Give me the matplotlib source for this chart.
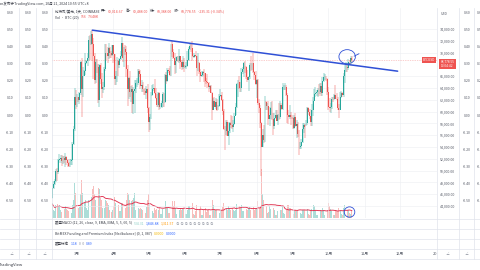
import datetime as dt

import matplotlib
matplotlib.use("Agg")
import matplotlib.dates as mdates
import matplotlib.pyplot as plt
from matplotlib import transforms
from matplotlib.patches import Ellipse
import pandas as pd

plt.rcParams['font.family'] = ['Noto Sans CJK SC', 'DejaVu Sans']

W, H = 480, 270

# daily BTC/USD candles, 2024-02-08 .. 2024-10-21
start_day = "2024-02-08"
first_open = 44350

close_feb = [45300, 47130, 47770, 48300, 49960, 49740, 51830, 51940, 52150, 51660, 52120,
             51780, 52280, 51850, 51320, 50740, 51570, 51730, 54520, 57090, 62500, 61200]
high_feb = [45600, 48200, 48200, 48600, 50300, 50400, 52000, 52800, 52600, 52600, 52400,
            52500, 52900, 52400, 52000, 51500, 51950, 52000, 54900, 57600, 64000, 63700]
low_feb = [44300, 45200, 46800, 47600, 48100, 48300, 49500, 51300, 51300, 50700, 51100,
           51300, 50600, 50900, 50600, 50600, 50600, 51000, 50900, 54400, 56700, 60400]

close_mar = [62440, 62030, 63170, 68330, 63800, 66110, 66930, 68300, 68500, 69020, 72120,
             71480, 73080, 71400, 69400, 65300, 68400, 67600, 61900, 67900, 65500, 63800,
             64100, 67200, 70000, 69900, 69450, 70780, 69890, 69660, 71330]
high_mar = [63000, 62500, 63300, 68500, 69000, 67600, 67000, 69900, 68700, 70000, 72800,
            72950, 73650, 73800, 72400, 70000, 68900, 68900, 68000, 68100, 68200, 66500,
            65000, 67600, 71500, 71500, 71000, 71600, 70900, 70300, 71350]
low_mar = [60800, 61600, 61300, 62800, 59000, 62400, 66000, 66200, 68000, 67800, 68600,
           68700, 71300, 68500, 65600, 64600, 64800, 66600, 61500, 60800, 64600, 62300,
           63100, 63600, 66900, 68800, 68300, 68900, 69000, 69100, 69500]

close_apr = [69700, 65450, 65980, 68500, 67840, 68900, 69360, 71620, 69140, 70590, 70060,
             67200, 63800, 65700, 63400, 63800, 61300, 63500, 63800, 64900, 64900, 66800,
             66400, 64300, 64500, 63750, 63420, 63110, 63840, 60640]
high_apr = [71300, 69700, 66900, 69300, 68700, 69000, 70300, 72700, 71700, 71000, 71300,
            71200, 67900, 65800, 66800, 64400, 64500, 64100, 65400, 65400, 65700, 67200,
            67200, 67100, 65300, 65000, 63900, 64000, 64300, 64700]
low_apr = [68200, 64500, 64500, 65100, 66000, 67400, 68800, 69200, 68400, 67500, 69600,
           65800, 60900, 62200, 62400, 61700, 59800, 59600, 59700, 63100, 64200, 64500,
           65800, 63800, 63300, 63400, 62800, 62800, 62100, 59800]

close_may = [58250, 59120, 62890, 63890, 64030, 63160, 62330, 61190, 63080, 60790, 60820,
             61480, 62900, 61550, 66250, 65230, 67050, 66940, 66280, 71450, 70140, 69120,
             67950, 68550, 69290, 68500, 69400, 68360, 67640, 68350, 67490]
high_may = [60800, 59600, 63300, 64500, 64600, 65500, 64000, 62900, 63400, 63400, 61400,
            61800, 63400, 63100, 66400, 66700, 67400, 67400, 67700, 71500, 71900, 70600,
            70000, 69200, 69500, 69500, 70600, 69500, 68800, 69400, 69000]
low_may = [56500, 56900, 58800, 62600, 63500, 62900, 62200, 60700, 60700, 60200, 60500,
           60600, 60800, 60700, 61400, 64600, 65100, 66600, 66100, 66100, 69200, 68900,
           66300, 66600, 68500, 68400, 68300, 67300, 67100, 67200, 66700]

close_jun = [67700, 67750, 68810, 70550, 71080, 70760, 69340, 69300, 69650, 69500, 67320,
             68240, 66750, 66010, 66190, 66640, 66490, 65160, 64960, 64830, 64100, 64260,
             63180, 60280, 61800, 60860, 61670, 60320, 60890, 62680]
high_jun = [67900, 68400, 70200, 71000, 71700, 71600, 71900, 69500, 69900, 70200, 69500,
            69900, 68400, 67300, 66800, 66900, 67200, 66500, 65700, 66400, 65000, 64500,
            64500, 63300, 62300, 62400, 62300, 62200, 61200, 63000]
low_jun = [67400, 67300, 67600, 68500, 70400, 70100, 68500, 69200, 69100, 69200, 66100,
           66900, 66300, 65100, 65900, 66100, 65100, 64100, 64600, 64000, 63400, 63900,
           63200, 58500, 60300, 60700, 60500, 60100, 60300, 60700]

close_jul = [62850, 62030, 60170, 56990, 56660, 58230, 55850, 56700, 58010, 57740, 57340,
             57900, 59190, 60800, 64720, 65040, 64080, 63970, 66710, 67160, 68180, 67580,
             65930, 65370, 65780, 67910, 67870, 68240, 66780, 66180, 64630]
high_jul = [63800, 63300, 62200, 60500, 57500, 58500, 58500, 58200, 58300, 59400, 59300,
            58500, 59800, 61400, 64900, 65400, 66100, 65100, 67400, 67600, 68400, 68500,
            67800, 67100, 66100, 68200, 69400, 68300, 70000, 66900, 66800]
low_jul = [62500, 61800, 59400, 56800, 53500, 56000, 55800, 54300, 56300, 57200, 57000,
           56600, 57800, 59500, 60600, 62400, 63900, 63300, 63300, 66300, 65800, 66600,
           65500, 65100, 63500, 65600, 66800, 67100, 66600, 65400, 64500]

close_aug = [65340, 61490, 60690, 58110, 53990, 56030, 55120, 61710, 60880, 60920, 58710,
             59350, 60600, 58740, 57560, 58870, 59480, 58430, 59500, 59020, 61170, 60380,
             64100, 64180, 64250, 62830, 59420, 59030, 59370, 59120, 58970]
high_aug = [65600, 65600, 62200, 61100, 58300, 57000, 57700, 62700, 61800, 61500, 61800,
            60700, 61600, 61800, 59800, 59800, 60200, 60300, 59600, 61400, 61800, 61400,
            64900, 64500, 64900, 64500, 63200, 60200, 61200, 60000, 59400]
low_aug = [62300, 61100, 59800, 57200, 49000, 54000, 54600, 54800, 60300, 60300, 57700,
           57600, 58700, 58500, 56100, 57100, 58800, 58400, 57800, 58600, 58800, 60300,
           60200, 63600, 63600, 62700, 58100, 57900, 58800, 57800, 58800]

close_sep = [57300, 59130, 57480, 57970, 56160, 53950, 54150, 54840, 57020, 57650, 57340,
             58130, 60570, 60010, 59180, 58210, 60310, 61760, 62950, 63200, 63350, 63580,
             63330, 64260, 63150, 65180, 65790, 65890, 65600, 63330]
high_sep = [59000, 59400, 59800, 58500, 58300, 56900, 54800, 55300, 58100, 58000, 57900,
            58600, 60700, 60700, 60400, 59200, 61300, 62500, 63900, 64100, 63600, 64000,
            64700, 64800, 64800, 65800, 66500, 66300, 66100, 65700]
low_sep = [57100, 57100, 57400, 55600, 55700, 52600, 53700, 53600, 54600, 56400, 55600,
           57500, 57800, 59500, 58700, 57500, 57600, 59200, 61800, 62400, 62700, 62400,
           62700, 62900, 62700, 62600, 65000, 65400, 65200, 62800]

close_oct = [60830, 60630, 60750, 62080, 62070, 62820, 62220, 62130, 60590, 60280, 62450,
             63200, 62850, 66080, 67040, 67610, 67380, 68400, 68360, 69030, 68778.55]
high_oct = [64100, 62300, 61400, 62500, 62400, 63000, 64500, 63200, 62500, 61300, 63400,
            63500, 63300, 66500, 67900, 68400, 67900, 68900, 68700, 69400, 69488]
low_oct = [60200, 60000, 59800, 60500, 61700, 61900, 62100, 61900, 60300, 58900, 60200,
           62300, 62400, 62400, 64900, 66700, 66700, 67100, 67900, 68100, 68388]

# volume, thousand BTC
vol_feb = [15, 18, 9, 8, 16, 17, 14, 16, 10, 7, 7, 11, 14, 11, 10, 8, 6, 6, 16, 22, 42, 30]
vol_mar = [25, 12, 13, 28, 45, 30, 18, 22, 12, 10, 22, 30, 25, 34, 38, 28, 22, 20, 36, 34,
           24, 22, 12, 12, 22, 20, 18, 16, 10, 7, 9]
vol_apr = [14, 25, 18, 19, 15, 8, 8, 18, 18, 17, 12, 22, 30, 28, 22, 20, 22, 24, 30, 10,
           8, 12, 11, 12, 11, 10, 7, 6, 13, 22]
vol_may = [28, 18, 18, 8, 6, 12, 10, 11, 10, 12, 5, 5, 11, 10, 20, 13, 12, 6, 6, 20,
           20, 14, 20, 12, 5, 5, 10, 12, 10, 11, 12]
vol_jun = [5, 5, 10, 14, 14, 10, 18, 5, 4, 8, 15, 15, 11, 14, 4, 4, 10, 12, 7, 9,
           10, 4, 4, 22, 16, 9, 9, 9, 4, 6]
vol_jul = [10, 10, 13, 18, 28, 12, 10, 14, 11, 9, 12, 10, 8, 9, 17, 16, 14, 12, 16, 8,
           8, 12, 11, 9, 12, 13, 10, 6, 13, 10, 11]
vol_aug = [12, 20, 12, 14, 58, 28, 22, 25, 14, 6, 7, 14, 11, 10, 12, 9, 4, 4, 8, 9,
           10, 9, 14, 6, 5, 10, 16, 16, 12, 12, 6]
vol_sep = [5, 8, 10, 8, 10, 14, 6, 5, 10, 10, 9, 9, 11, 5, 4, 9, 11, 15, 14, 9,
           4, 4, 8, 9, 8, 12, 10, 4, 4, 10]
vol_oct = [18, 14, 11, 8, 4, 4, 9, 8, 8, 12, 10, 5, 4, 12, 15, 12, 10, 10, 6, 5, 8]

# drawn trendline and the two hand circles
trend_dates = ["2024-03-14", "2024-11-29"]
trend_prices = [73800, 66850]
circle_dates = ["2024-10-17", "2024-10-19"]
circle_prices = [69300, 42980]
circle_w_days = [14, 9]
circle_h_price = [2400, 1750]

month_labels = ["3月", "4月", "5月", "6月", "7月", "8月", "9月", "10月", "11月", "12月"]
month_dates = ["2024-03-01", "2024-04-01", "2024-05-01", "2024-06-01", "2024-07-01",
               "2024-08-01", "2024-09-01", "2024-10-01", "2024-11-01", "2024-12-01"]
year_label = "20"
# 68,000 sits under the last-price tag, so it is not shown
price_ticks = [44000, 46000, 48000, 50000, 52000, 54000, 56000, 58000, 60000,
               62000, 64000, 66000, 70000, 72000, 74000]
scale_ticks = [0.60, 0.50, 0.40, 0.30, 0.20, 0.10, 0.00, -0.10, -0.20, -0.30, -0.40, -0.50]

UP, DOWN = "#26a69a", "#ef5350"
TXT = "#3a3d47"
GRID = "#eceef2"
BLUE = "#2f50d6"

closes = (close_feb + close_mar + close_apr + close_may + close_jun + close_jul
          + close_aug + close_sep + close_oct)
highs = (high_feb + high_mar + high_apr + high_may + high_jun + high_jul
         + high_aug + high_sep + high_oct)
lows = (low_feb + low_mar + low_apr + low_may + low_jun + low_jul
        + low_aug + low_sep + low_oct)
vols = (vol_feb + vol_mar + vol_apr + vol_may + vol_jun + vol_jul
        + vol_aug + vol_sep + vol_oct)

df = pd.DataFrame({"close": closes, "high": highs, "low": lows, "vol": vols},
                  index=pd.date_range(start_day, periods=len(closes), freq="D"))
df["open"] = df["close"].shift(1).fillna(first_open)
df["vol_ma"] = df["vol"].rolling(20, min_periods=1).mean()
xs = mdates.date2num(df.index.to_pydatetime())
up = df["close"] >= df["open"]
colors = [UP if u else DOWN for u in up]


def fx(px):
    return px / W


def fy(py):
    return 1 - py / H


fig = plt.figure(figsize=(4.8, 2.7), dpi=100)
fig.patch.set_facecolor("white")

ax = fig.add_axes([fx(52), fy(218), fx(437) - fx(52), fy(8) - fy(218)])
vax = ax.twinx()
ax.set_zorder(vax.get_zorder() + 1)
ax.patch.set_visible(False)

x0 = mdates.date2num(dt.datetime(2024, 2, 8, 16))
x1 = mdates.date2num(dt.datetime(2025, 1, 1, 12))
ax.set_xlim(x0, x1)
ax.set_ylim(41966, 77559)
vax.set_ylim(0, 250)

# volume + MA
vax.bar(xs, df["vol"], width=0.75, color=colors, alpha=0.38, linewidth=0)
vax.plot(xs, df["vol_ma"], color="#e0304e", lw=0.65)
vax.yaxis.set_visible(False)

# candles
ax.vlines(xs, df["low"], df["high"], colors=colors, lw=0.35)
ax.bar(xs, df["close"] - df["open"], bottom=df["open"], width=0.75,
       color=colors, linewidth=0)

# last price line
ax.axhline(closes[-1], color=DOWN, lw=0.5, ls=(0, (1, 1.5)), alpha=0.55)

# trendline + hand drawn circles
ax.plot(mdates.date2num(pd.to_datetime(trend_dates).to_pydatetime()), trend_prices,
        color=BLUE, lw=1.1, solid_capstyle="round")
for d, p, w, h in zip(circle_dates, circle_prices, circle_w_days, circle_h_price):
    ax.add_patch(Ellipse((mdates.date2num(pd.Timestamp(d).to_pydatetime()), p), w, h,
                         fill=False, ec=BLUE, lw=0.6, clip_on=False))
tail_x = mdates.date2num(pd.to_datetime(["2024-10-23", "2024-10-27"]).to_pydatetime())
ax.plot(tail_x, [69400, 69800], color=BLUE, lw=0.6)

# axes styling
for s in ax.spines.values():
    s.set_visible(False)
for s in vax.spines.values():
    s.set_visible(False)
ax.set_xticks(mdates.date2num(pd.to_datetime(month_dates).to_pydatetime()))
ax.tick_params(axis="x", length=0, labelbottom=False)
ax.yaxis.tick_right()
ax.set_yticks(price_ticks)
ax.set_yticklabels([f"{v:,.2f}" for v in price_ticks])
ax.tick_params(axis="y", length=0, pad=2, labelsize=2.5, labelcolor="#555a66")
ax.grid(color=GRID, lw=0.4)
ax.set_axisbelow(True)

# overlay in pixel units for the TradingView frame
ov = fig.add_axes([0, 0, 1, 1], zorder=10)
ov.set_xlim(0, W)
ov.set_ylim(H, 0)
ov.axis("off")

line_kw = dict(color="#e0e3eb", lw=0.5)
for yy in [219, 229, 239, 249, 259]:
    ov.plot([0, W], [yy, yy], **line_kw)
for xx in [19, 36, 52, 437, 459, 474]:
    ov.plot([xx, xx], [8, 259], **line_kw)

# indicator scales at both sides
sx = fig.add_axes(ax.get_position(), zorder=-1)
sx.set_ylim(-0.5995, 0.629)
sx.axis("off")
scale_tf = transforms.blended_transform_factory(ov.transData, sx.transData)
for v in scale_ticks:
    lab = f"{v:.2f}"
    for cx in [10, 28, 45, 467]:
        fig.text(cx, v, lab, transform=scale_tf, fontsize=2.5, color="#555a66",
                 ha="center", va="center")
    fig.text(477, v, lab, transform=scale_tf, fontsize=2.5, color="#555a66",
             ha="left", va="center")

ov.text(441, 14, "USD", fontsize=2.5, color="#555a66", ha="left", va="center")

# month labels along bottom
month_tf = transforms.blended_transform_factory(ax.transData, ov.transData)
for lab, d in zip(month_labels, month_dates):
    fig.text(mdates.date2num(pd.Timestamp(d).to_pydatetime()), 254, lab,
             transform=month_tf, fontsize=2.8, color="#555a66", ha="center", va="center")
fig.text(x1, 254, year_label, transform=month_tf, fontsize=2.8, color="#555a66",
         ha="right", va="center")
for cx in [12, 29, 45, 448, 467]:
    ov.text(cx, 254, "∠", fontsize=2.8, color="#8a8f9c", ha="center", va="center")

# last price labels
price_tf = transforms.blended_transform_factory(ov.transData, ax.transData)
fig.text(447.5, closes[-1], f"{closes[-1]:,.2f}\n13:04:42", transform=price_tf,
         fontsize=2.3, color="white", ha="center", va="top", linespacing=1.1,
         bbox=dict(boxstyle="square,pad=0.35", fc=DOWN, ec="none"))
fig.text(429, closes[-1], "BTCUSD", transform=price_tf, fontsize=2.3, color="white",
         ha="center", va="center",
         bbox=dict(boxstyle="square,pad=0.35", fc=DOWN, ec="none"))


def chain(x, y, parts, size=2.5):
    t = ov.text(x, y, parts[0][0], color=parts[0][1], fontsize=size,
                ha="left", va="center")
    for s, c in parts[1:]:
        t = ov.annotate(s, xy=(1, 0), xycoords=t, xytext=(1.2, 0),
                        textcoords="offset points", color=c, fontsize=size,
                        ha="left", va="bottom", annotation_clip=False)


RED = "#ef5350"
chain(-1, 4, [("an发布于TradingView.com, 10月 21, 2024 10:55 UTC+8", TXT)], size=2.6)
chain(55, 11, [("比特币/美元, 1天, COINBASE", TXT), ("开=", TXT), ("69,014.67", RED),
               ("高=", TXT), ("69,488.00", RED), ("低=", TXT), ("68,388.00", RED),
               ("收=", TXT), ("68,778.55", RED), ("-235.31 (-0.34%)", RED)])
chain(55, 17.5, [("Vol · BTC (20)", TXT), ("956", RED), ("7.648K", RED)])
chain(55, 223.5, [("致盛MACD (12, 26, close, 9, EMA, EMA, 5, 5, 60, 5)", TXT),
                  ("534.31", "#8fd0c8"), ("1,846.88", "#2962ff"), ("1,311.57", "#ff9800"),
                  ("∅ ∅ ∅ ∅ ∅ ∅ ∅ ∅ ∅", "#8a8f9c")])
chain(55, 234, [("BitMEX Funding and Premium Index [Nedbalance] (0, 1, 087)", TXT),
                ("0.0000", "#f5b800"), ("0.0000", "#2962ff")])
chain(55, 244, [("致盛标准", TXT), ("1.18", "#2962ff"), ("0  0", "#8a8f9c"),
                ("0.89", "#2962ff")])
ov.text(-1, 265, "TradingView", fontsize=3, color=TXT, ha="left", va="center")

fig.savefig("out.png", dpi=100)
